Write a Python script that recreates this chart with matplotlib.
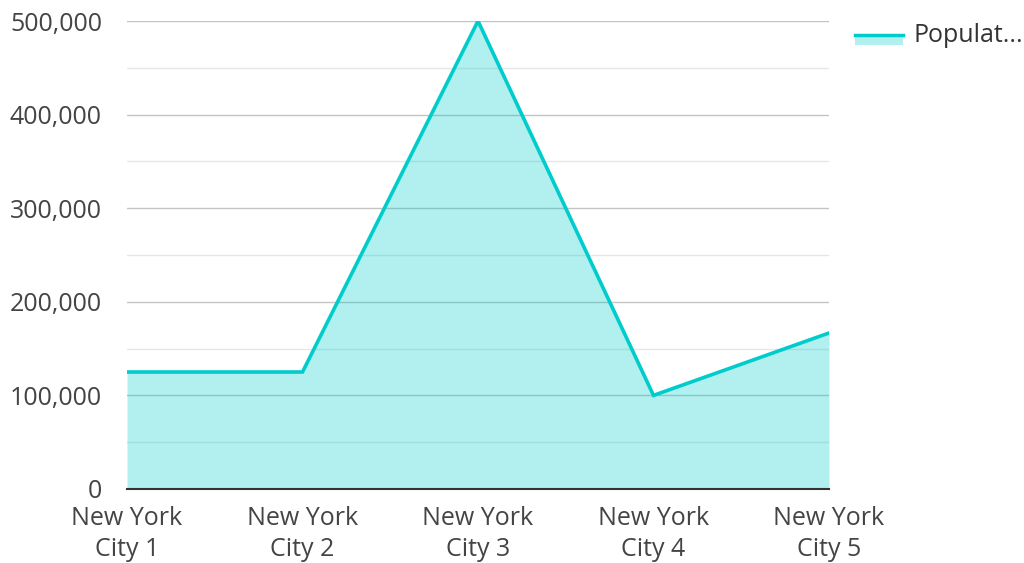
import matplotlib.pyplot as plt
from matplotlib.ticker import MultipleLocator, FuncFormatter
from matplotlib.patches import Rectangle
from matplotlib.lines import Line2D

cities = ['New York\nCity 1', 'New York\nCity 2', 'New York\nCity 3',
          'New York\nCity 4', 'New York\nCity 5']
population = [125000, 125000, 500000, 100000, 166667]
series_name = 'Populat...'

line_color = '#00cccc'

plt.rcParams['font.family'] = ['Open Sans', 'DejaVu Sans']

fig = plt.figure(figsize=(10.24, 5.63), dpi=100)
ax = fig.add_axes([127 / 1024, 1 - 489 / 563, (829 - 127) / 1024, (489 - 21) / 563])

x = list(range(len(cities)))
# translucent fill sits on top of the grid so the gridlines show through tinted
ax.fill_between(x, population, 0, color=line_color, alpha=0.3, linewidth=0, zorder=3)
ax.plot(x, population, color=line_color, linewidth=2.6, zorder=4,
        solid_joinstyle='miter')

ax.set_xlim(0, len(cities) - 1)
ax.set_ylim(0, 500000)
ax.yaxis.set_major_locator(MultipleLocator(100000))
ax.yaxis.set_minor_locator(MultipleLocator(50000))
ax.yaxis.set_major_formatter(FuncFormatter(lambda v, p: f'{int(v):,}'))
ax.grid(True, which='major', axis='y', color='#c4c4c4', linewidth=1, zorder=1)
ax.grid(True, which='minor', axis='y', color='#e6e6e6', linewidth=1, zorder=1)
ax.set_axisbelow(True)

ax.set_xticks(x)
ax.set_xticklabels(cities, linespacing=1.32)
ax.tick_params(axis='both', which='both', length=0, labelsize=18, labelcolor='#444444')
ax.tick_params(axis='x', pad=12)
ax.tick_params(axis='y', pad=18)

for side in ['top', 'right', 'left']:
    ax.spines[side].set_visible(False)
ax.spines['bottom'].set_color('#333333')
ax.spines['bottom'].set_linewidth(1.5)
ax.spines['bottom'].set_zorder(5)

# legend drawn by hand: line over fill swatch
fig.patches.append(Rectangle((855 / 1024, 1 - 45 / 563), 48 / 1024, 10 / 563,
                             transform=fig.transFigure, facecolor=line_color,
                             alpha=0.3, edgecolor='none'))
fig.lines.append(Line2D([855 / 1024, 903 / 1024], [1 - 35 / 563, 1 - 35 / 563],
                        transform=fig.transFigure, color=line_color, linewidth=2.5))
fig.text(914 / 1024, 1 - 35 / 563, series_name, fontsize=18, color='#333333',
         va='center', ha='left')

fig.savefig('out.png', dpi=100)
